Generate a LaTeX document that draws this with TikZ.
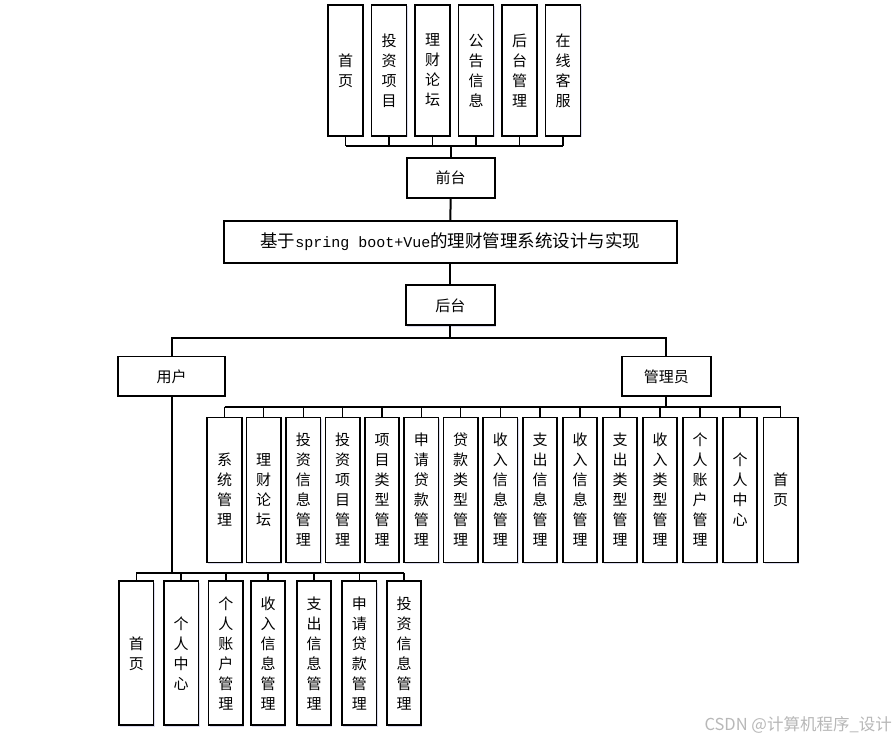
\documentclass[tikz,border=0pt]{standalone}
\usepackage{fontspec}
\setmainfont{Noto Sans CJK SC}
\newfontfamily\monofnt{Liberation Mono}
\usetikzlibrary{shadows}

\begin{document}
	\begin{tikzpicture}[x=1pt, y=-1pt,
		box/.style={draw, line width=1.8pt, fill=white, inner sep=0pt, align=center,
			font=\fontsize{15}{20}\selectfont,
			drop shadow={shadow xshift=1.2pt, shadow yshift=-1.2pt, fill=blue!40!gray, opacity=0.2}},
		topbox/.style={box, minimum width=35pt, minimum height=131pt},
		vbox/.style={box, minimum width=34.5pt, minimum height=145pt},
		hbox/.style={box, minimum height=39.5pt},
		trunk/.style={line width=2pt},
		branch/.style={line width=1.5pt}]
		\fill [white] ( 0, 0 ) rectangle ( 895, 740 );
		\useasboundingbox ( 0, 0 ) rectangle ( 895, 740 );

		% front
		\node [topbox] (f1) at ( 345.5, 70.5 ) {首\\页};
		\node [topbox] (f2) at ( 389.0, 70.5 ) {投\\资\\项\\目};
		\node [topbox] (f3) at ( 432.5, 70.5 ) {理\\财\\论\\坛};
		\node [topbox] (f4) at ( 476.0, 70.5 ) {公\\告\\信\\息};
		\node [topbox] (f5) at ( 519.5, 70.5 ) {后\\台\\管\\理};
		\node [topbox] (f6) at ( 563.0, 70.5 ) {在\\线\\客\\服};
		\node [hbox, minimum width=88pt] (qiantai) at ( 450.7, 178.0 ) {前台};

		% title
		\node [hbox, minimum width=452.7pt, minimum height=42pt, font=\fontsize{17.5}{20}\selectfont] (title) at ( 450.3, 241.7 )
			{基于{\monofnt\fontsize{15}{20}\selectfont spring boot+Vue}的理财管理系统设计与实现};

		% back
		\node [hbox, minimum width=88.7pt, minimum height=40pt] (houtai) at ( 450.3, 305.3 ) {后台};
		\node [hbox, minimum width=106.7pt] (yonghu) at ( 171.7, 376.3 ) {用户};
		\node [hbox, minimum width=88.7pt] (guanli) at ( 666.3, 376.3 ) {管理员};

		% admin
		\node [vbox] (a1) at ( 224.5, 490.0 ) {系\\统\\管\\理};
		\node [vbox] (a2) at ( 263.7, 490.0 ) {理\\财\\论\\坛};
		\node [vbox] (a3) at ( 303.3, 490.0 ) {投\\资\\信\\息\\管\\理};
		\node [vbox] (a4) at ( 342.7, 490.0 ) {投\\资\\项\\目\\管\\理};
		\node [vbox] (a5) at ( 382.0, 490.0 ) {项\\目\\类\\型\\管\\理};
		\node [vbox] (a6) at ( 421.3, 490.0 ) {申\\请\\贷\\款\\管\\理};
		\node [vbox] (a7) at ( 460.7, 490.0 ) {贷\\款\\类\\型\\管\\理};
		\node [vbox] (a8) at ( 500.3, 490.0 ) {收\\入\\信\\息\\管\\理};
		\node [vbox] (a9) at ( 540.0, 490.0 ) {支\\出\\信\\息\\管\\理};
		\node [vbox] (a10) at ( 580.0, 490.0 ) {收\\入\\信\\息\\管\\理};
		\node [vbox] (a11) at ( 620.0, 490.0 ) {支\\出\\类\\型\\管\\理};
		\node [vbox] (a12) at ( 660.0, 490.0 ) {收\\入\\类\\型\\管\\理};
		\node [vbox] (a13) at ( 700.0, 490.0 ) {个\\人\\账\\户\\管\\理};
		\node [vbox] (a14) at ( 740.0, 490.0 ) {个\\人\\中\\心};
		\node [vbox] (a15) at ( 780.7, 490.0 ) {首\\页};

		% user
		\node [vbox, minimum height=144pt] (u1) at ( 136.3, 653.3 ) {首\\页};
		\node [vbox, minimum height=144pt] (u2) at ( 181.2, 653.3 ) {个\\人\\中\\心};
		\node [vbox, minimum height=144pt] (u3) at ( 225.8, 653.3 ) {个\\人\\账\\户\\管\\理};
		\node [vbox, minimum height=144pt] (u4) at ( 268.0, 653.3 ) {收\\入\\信\\息\\管\\理};
		\node [vbox, minimum height=144pt] (u5) at ( 314.0, 653.3 ) {支\\出\\信\\息\\管\\理};
		\node [vbox, minimum height=144pt] (u6) at ( 359.3, 653.3 ) {申\\请\\贷\\款\\管\\理};
		\node [vbox, minimum height=144pt] (u7) at ( 404.0, 653.3 ) {投\\资\\信\\息\\管\\理};

		% connectors
		\coordinate (fbus) at ( 450.7, 145.7 );
		\coordinate (split) at ( 450.3, 338.0 );
		\coordinate (abus) at ( 666.3, 406.7 );
		\coordinate (ubus) at ( 171.7, 573.3 );

		\foreach \i in {1,...,6}
			\draw [branch] (f\i.south) -- (f\i.south |- fbus);
		\draw [trunk] (f1.south |- fbus) -- (f6.south |- fbus);
		\draw [trunk] (fbus) -- (qiantai.north);
		\draw [trunk] (qiantai.south) -- (title.north);
		\draw [trunk] (title.south) -- (houtai.north);
		\draw [trunk] (houtai.south) -- (split);
		\draw [trunk] (yonghu.north) |- (split) -| (guanli.north);

		\foreach \i in {1,...,15}
			\draw [branch] (a\i.north) -- (a\i.north |- abus);
		\draw [trunk] (a1.north |- abus) -- (a15.north |- abus);
		\draw [trunk] (guanli.south) -- (abus);

		\foreach \i in {1,...,7}
			\draw [branch] (u\i.north) -- (u\i.north |- ubus);
		\draw [trunk] (u1.north |- ubus) -- (u7.north |- ubus);
		\draw [trunk] (yonghu.south) -- (ubus);

		% watermark
		\node [anchor=east, text=black!28, inner sep=0pt, font=\fontsize{16.5}{18}\selectfont] (wm) at ( 892, 725 ) {CSDN @计算机程序\_设计};
	\end{tikzpicture}
\end{document}
